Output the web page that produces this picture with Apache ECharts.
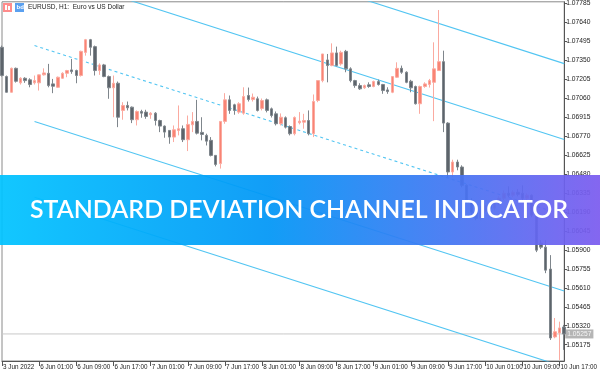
<!DOCTYPE html>
<html><head><meta charset="utf-8">
<script src="https://cdn.jsdelivr.net/npm/echarts@6/dist/echarts.min.js"></script>
<style>html,body{margin:0;padding:0;background:#fff;overflow:hidden}#c{width:600px;height:375px}</style>
</head><body><div id="c"></div>
<script>
// ---- data ----
const sessions = [['3 Jun', 17, 23], ['6 Jun', 0, 23], ['7 Jun', 0, 23], ['8 Jun', 0, 23], ['9 Jun', 0, 23], ['10 Jun', 0, 18]];
const xTickLabels = ['3 Jun 2022','6 Jun 01:00','6 Jun 09:00','6 Jun 17:00','7 Jun 01:00','7 Jun 09:00','7 Jun 17:00','8 Jun 01:00','8 Jun 09:00','8 Jun 17:00','9 Jun 01:00','9 Jun 09:00','9 Jun 17:00','10 Jun 01:00','10 Jun 09:00','10 Jun 17:00'];
const yTicks = [1.07785,1.07640,1.07495,1.07350,1.07205,1.07060,1.06915,1.06770,1.06625,1.06480,1.06335,1.06190,1.06045,1.05900,1.05755,1.05610,1.05465,1.05320,1.05175];
// [open, close, low, high]
const candles = [
[1.07450,1.07234,1.07226,1.07463],[1.07226,1.07106,1.07104,1.07234],[1.07106,1.07289,1.07104,1.07295],[1.07289,1.07190,1.07180,1.07295],
[1.07178,1.07213,1.07165,1.07221],[1.07213,1.07195,1.07178,1.07221],[1.07201,1.07165,1.07144,1.07213],[1.07178,1.07195,1.07165,1.07234],
[1.07178,1.07239,1.07119,1.07241],[1.07239,1.07254,1.07234,1.07289],[1.07251,1.07157,1.07144,1.07323],[1.07170,1.07152,1.07099,1.07208],
[1.07144,1.07221,1.07140,1.07226],[1.07213,1.07251,1.07208,1.07259],[1.07251,1.07272,1.07221,1.07277],[1.07277,1.07264,1.07247,1.07361],
[1.07272,1.07234,1.07175,1.07279],[1.07234,1.07419,1.07226,1.07424],[1.07411,1.07508,1.07386,1.07514],[1.07508,1.07450,1.07386,1.07514],
[1.07455,1.07272,1.07234,1.07463],[1.07272,1.07315,1.07239,1.07327],[1.07315,1.07226,1.07221,1.07323],[1.07226,1.07140,1.07056,1.07234],
[1.07140,1.07175,1.06915,1.07234],[1.07175,1.06915,1.06839,1.07188],[1.06967,1.07005,1.06896,1.07030],[1.07005,1.06987,1.06967,1.07035],
[1.06992,1.06896,1.06870,1.06997],[1.06896,1.06959,1.06852,1.06967],[1.06959,1.06946,1.06911,1.06972],[1.06954,1.06921,1.06903,1.06972],
[1.06934,1.06946,1.06903,1.06954],[1.06946,1.06890,1.06852,1.06954],[1.06890,1.06847,1.06801,1.06896],[1.06847,1.06801,1.06758,1.06852],
[1.06814,1.06763,1.06712,1.06814],[1.06763,1.06819,1.06725,1.06852],[1.06814,1.06827,1.06776,1.07005],[1.06827,1.06743,1.06725,1.06852],
[1.06743,1.06860,1.06656,1.06928],[1.06857,1.06883,1.06801,1.06954],[1.06883,1.06793,1.06783,1.07048],[1.06799,1.06783,1.06738,1.06915],
[1.06776,1.06732,1.06699,1.06789],[1.06738,1.06623,1.06615,1.06763],[1.06623,1.06554,1.06539,1.06623],[1.06560,1.06883,1.06522,1.06883],
[1.06883,1.07048,1.06865,1.07099],[1.07048,1.06967,1.06941,1.07081],[1.07010,1.06967,1.06934,1.07018],[1.06954,1.07018,1.06941,1.07030],
[1.06946,1.07073,1.06934,1.07144],[1.07081,1.07050,1.07035,1.07142],[1.07050,1.07068,1.07035,1.07096],[1.07056,1.06967,1.06959,1.07073],
[1.06982,1.07043,1.06967,1.07058],[1.07048,1.06967,1.06952,1.07058],[1.06979,1.06928,1.06913,1.06989],[1.06941,1.06865,1.06852,1.06959],
[1.06865,1.06915,1.06852,1.06944],[1.06911,1.06839,1.06829,1.06921],[1.06844,1.06789,1.06776,1.06852],[1.06789,1.06913,1.06776,1.06921],
[1.06873,1.06885,1.06860,1.06954],[1.06877,1.06890,1.06827,1.06941],[1.06890,1.06789,1.06776,1.06967],[1.06789,1.07035,1.06763,1.07089],
[1.07043,1.07195,1.07030,1.07195],[1.07195,1.07399,1.07182,1.07399],[1.07353,1.07310,1.07182,1.07399],[1.07310,1.07407,1.07305,1.07480],
[1.07407,1.07310,1.07305,1.07455],[1.07323,1.07411,1.07310,1.07424],[1.07419,1.07285,1.07259,1.07430],[1.07285,1.07195,1.07182,1.07297],
[1.07195,1.07157,1.07140,1.07201],[1.07157,1.07132,1.07124,1.07175],[1.07140,1.07157,1.07132,1.07165],[1.07163,1.07150,1.07140,1.07182],
[1.07150,1.07188,1.07144,1.07195],[1.07188,1.07165,1.07157,1.07203],[1.07165,1.07119,1.07094,1.07170],[1.07124,1.07111,1.07094,1.07144],
[1.07106,1.07226,1.07099,1.07226],[1.07221,1.07289,1.07216,1.07335],[1.07289,1.07259,1.07247,1.07310],[1.07259,1.07182,1.07175,1.07266],
[1.07190,1.07140,1.07106,1.07201],[1.07150,1.07018,1.07012,1.07157],[1.07018,1.07150,1.06941,1.07157],[1.07150,1.07170,1.07140,1.07182],
[1.07165,1.07195,1.07142,1.07208],[1.07182,1.07285,1.06885,1.07488],[1.07272,1.07340,1.07272,1.07735],[1.07340,1.06870,1.06801,1.07424],
[1.06870,1.06496,1.06457,1.06877],[1.06496,1.06572,1.06457,1.06590],[1.06572,1.06534,1.06509,1.06590],[1.06534,1.06394,1.06379,1.06547],
[1.06394,1.06280,1.06257,1.06402],[1.06280,1.06188,1.06173,1.06295],[1.06188,1.06142,1.06127,1.06219],[1.06142,1.06203,1.06127,1.06234],
[1.06196,1.06241,1.06180,1.06257],[1.06241,1.06219,1.06203,1.06257],[1.06219,1.06257,1.06203,1.06280],[1.06257,1.06295,1.06241,1.06310],
[1.06295,1.06333,1.06280,1.06356],[1.06333,1.06318,1.06303,1.06386],[1.06318,1.06341,1.06303,1.06356],[1.06341,1.06325,1.06310,1.06364],
[1.06333,1.06295,1.06280,1.06394],[1.06295,1.06318,1.06280,1.06333],[1.06318,1.06165,1.06150,1.06325],[1.06165,1.05898,1.05883,1.06180],
[1.05951,1.05921,1.05906,1.05974],[1.05921,1.05745,1.05722,1.05974],[1.05753,1.05226,1.05211,1.05860],[1.05234,1.05274,1.05224,1.05379],
[1.05265,1.05303,1.05058,1.05351],[1.05310,1.05257,1.05135,1.05326]
];
const currentPrice = 1.05257;
// standard deviation channel: index range, centre values at both ends, one deviation step
const channelIdx = [7, 121];
const channelMid = [1.07463, 1.06165];
const channelDev = 0.0058;
const channelLevels = [2, 1, 0, -1, -2];

// ---- build ----
const categories = [];
sessions.forEach(([d, h0, h1]) => { for (let h = h0; h <= h1; h++) categories.push(d + ' ' + String(h).padStart(2, '0') + ':00'); });
const lastIdx = categories.length - 1;

const lineColor = '#52c5f2';
const channelSeries = channelLevels.map(k => ({
  type: 'line', silent: true, symbol: 'none', z: 3,
  data: [[channelIdx[0], channelMid[0] + k * channelDev], [channelIdx[1], channelMid[1] + k * channelDev]],
  lineStyle: { color: lineColor, width: 1.1, type: k === 0 ? [3, 3] : 'solid' }
}));

const font = 'Liberation Sans';
const chart = echarts.init(document.getElementById('c'), null, { renderer: 'canvas' });

// fit banner text width
const bannerText = 'STANDARD DEVIATION CHANNEL INDICATOR';
const bannerFont = '600 25px Lato';
const cv = document.createElement('canvas').getContext('2d');
cv.font = bannerFont;
const tw = cv.measureText(bannerText).width;
const sx = 538 / tw;

chart.setOption({
  animation: false,
  backgroundColor: '#fff',
  grid: { left: 2, right: 31, top: 1, bottom: 14, show: true, borderColor: '#8a8a8a', borderWidth: 1 },
  xAxis: {
    type: 'category', data: categories, boundaryGap: false,
    axisLine: { lineStyle: { color: '#555', width: 1 } },
    axisTick: { interval: 7, length: 5, lineStyle: { color: '#555' } },
    axisLabel: { interval: 7, align: 'left', fontSize: 6.3, fontFamily: font, color: '#222', margin: 3, padding: [0, 0, 0, 1],
      hideOverlap: false, formatter: (v, i) => xTickLabels[Math.round(i / 8)] }
  },
  yAxis: {
    type: 'value', position: 'right', min: 1.0505, max: 1.07798,
    axisLine: { show: true, lineStyle: { color: '#555' } },
    axisTick: { show: true, length: 3, customValues: yTicks, lineStyle: { color: '#555' } },
    axisLabel: { customValues: yTicks, formatter: v => v.toFixed(5), fontSize: 6.7, fontFamily: font, color: '#222', margin: 2 },
    splitLine: { show: false }
  },
  series: [
    {
      type: 'line', silent: true, symbol: 'none', z: 2, clip: false,
      data: [[0, currentPrice], [lastIdx, currentPrice]],
      lineStyle: { color: '#c8c8c8', width: 1 },
      endLabel: { show: true, formatter: currentPrice.toFixed(5), backgroundColor: '#b5b5b5', color: '#f6f6f6', fontSize: 6.7, fontFamily: font, padding: [1, 2], distance: 1 }
    },
    ...channelSeries,
    {
      type: 'candlestick', data: candles, barWidth: 3, z: 4,
      itemStyle: { color: '#f98474', color0: '#5d646b', borderColor: '#fbaaa0', borderColor0: '#7f868c', borderWidth: 1 }
    }
  ],
  graphic: [
    { type: 'rect', shape: { x: 3, y: 3, width: 9, height: 9 }, style: { fill: '#ff8c8c' }, z: 50 },
    { type: 'rect', shape: { x: 5, y: 5, width: 2, height: 5 }, style: { fill: '#fff' }, z: 51 },
    { type: 'rect', shape: { x: 8, y: 6, width: 2, height: 4 }, style: { fill: '#fff' }, z: 51 },
    { type: 'rect', shape: { x: 15, y: 3, width: 9, height: 9 }, style: { fill: '#5aa0f0' }, z: 50 },
    { type: 'text', x: 16.5, y: 7.5, style: { text: 'bd', font: 'bold 6px ' + font, fill: '#fff', textVerticalAlign: 'middle' }, z: 51 },
    { type: 'text', x: 28, y: 7.5, style: { text: 'EURUSD, H1:  Euro vs US Dollar', font: '6.5px ' + font, fill: '#222', textVerticalAlign: 'middle' }, z: 50 },
    { type: 'rect', shape: { x: 0, y: 175, width: 600, height: 70 }, z: 100,
      style: { opacity: 0.93, fill: new echarts.graphic.LinearGradient(0, 0, 1, 0, [
        { offset: 0, color: '#00c3ff' }, { offset: 0.45, color: '#0096f6' }, { offset: 1, color: '#7b5bef' }]) } },
    { type: 'text', x: 299, y: 210, originX: 0, originY: 0, scaleX: sx, z: 101,
      style: { text: bannerText, font: bannerFont, fill: '#fff', textAlign: 'center', textVerticalAlign: 'middle' } }
  ]
});
</script></body></html>
